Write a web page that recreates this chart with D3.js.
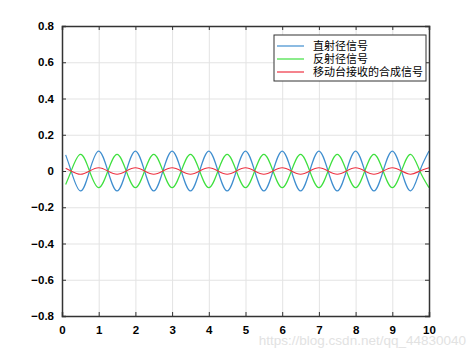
<!DOCTYPE html>
<html>
<head>
<meta charset="utf-8">
<script src="https://cdn.jsdelivr.net/npm/d3@7"></script>
<style>
body { margin: 0; background: #fff; }
</style>
</head>
<body>
<svg width="474" height="355"></svg>
<script>
// sample times (quarter periods)
const times = [0.1,
  0.25, 0.5, 0.75, 1, 1.25, 1.5, 1.75, 2, 2.25, 2.5, 2.75, 3, 3.25, 3.5, 3.75, 4,
  4.25, 4.5, 4.75, 5, 5.25, 5.5, 5.75, 6, 6.25, 6.5, 6.75, 7, 7.25, 7.5, 7.75, 8,
  8.25, 8.5, 8.75, 9, 9.25, 9.5, 9.75, 10];
const direct = [0.089,
  0, -0.11, 0, 0.11, 0, -0.11, 0, 0.11, 0, -0.11, 0, 0.11, 0, -0.11, 0, 0.11,
  0, -0.11, 0, 0.11, 0, -0.11, 0, 0.11, 0, -0.11, 0, 0.11, 0, -0.11, 0, 0.11,
  0, -0.11, 0, 0.11, 0, -0.11, 0, 0.11];
const reflected = [-0.074,
  0, 0.092, 0, -0.092, 0, 0.092, 0, -0.092, 0, 0.092, 0, -0.092, 0, 0.092, 0, -0.092,
  0, 0.092, 0, -0.092, 0, 0.092, 0, -0.092, 0, 0.092, 0, -0.092, 0, 0.092, 0, -0.092,
  0, 0.092, 0, -0.092, 0, 0.092, 0, -0.092];
const combined = [0.015,
  0, -0.018, 0, 0.018, 0, -0.018, 0, 0.018, 0, -0.018, 0, 0.018, 0, -0.018, 0, 0.018,
  0, -0.018, 0, 0.018, 0, -0.018, 0, 0.018, 0, -0.018, 0, 0.018, 0, -0.018, 0, 0.018,
  0, -0.018, 0, 0.018, 0, -0.018, 0, 0.018];
const seriesNames = ["直射径信号", "反射径信号", "移动台接收的合成信号"];
const xTicks = [0, 1, 2, 3, 4, 5, 6, 7, 8, 9, 10];
const yTicks = [-0.8, -0.6, -0.4, -0.2, 0, 0.2, 0.4, 0.6, 0.8];

const svg = d3.select('svg');
const margin = { top: 26, right: 45, bottom: 39, left: 62 };
const innerWidth = 474 - margin.left - margin.right;
const innerHeight = 355 - margin.top - margin.bottom;
const mainGroup = svg.append("g").attr("transform", "translate(" + margin.left + "," + margin.top + ")");

let xscale = d3.scaleLinear().domain([0, 10]).range([0, innerWidth]),
    yscale = d3.scaleLinear().domain([-0.8, 0.8]).range([innerHeight, 0]);
const colors = ["#3f8ecf", "#3ee03e", "#ee3040"];

// helper: drop the empty tick texts of grid / box axes
const noText = g => g.selectAll('text').remove();

// grid
mainGroup.append('g')
    .attr('transform', 'translate(0,' + innerHeight + ')')
    .call(d3.axisBottom(xscale).tickValues(xTicks).tickSize(-innerHeight).tickFormat(''))
    .call(g => g.select('.domain').remove())
    .call(noText)
    .selectAll('line').attr('stroke', '#e3e3e3');
mainGroup.append('g')
    .call(d3.axisLeft(yscale).tickValues(yTicks).tickSize(-innerWidth).tickFormat(''))
    .call(g => g.select('.domain').remove())
    .call(noText)
    .selectAll('line').attr('stroke', '#e3e3e3');

// lines
let line = d3.line()
    .curve(d3.curveNatural)
    .x((d, i) => xscale(times[i]))
    .y(d => yscale(d));
[direct, reflected, combined].forEach(function (vals, k) {
    mainGroup.append("path")
        .attr("fill", "none")
        .attr("stroke", colors[k])
        .attr("stroke-width", 1.2)
        .attr("d", line(vals));
});

// axes (ticks inward, box)
const tickFont = g => g.selectAll('text')
    .attr('font-family', 'Liberation Sans, Arial, sans-serif')
    .attr('font-weight', 'bold')
    .attr('font-size', '11.5px')
    .attr('fill', '#000');
mainGroup.append('g')
    .attr("class", "frame")
    .attr("transform", "translate(0," + innerHeight + ")")
    .call(d3.axisBottom(xscale).tickValues(xTicks).tickSize(-4).tickPadding(10).tickFormat(d3.format('d')))
    .call(tickFont);
mainGroup.append('g')
    .attr("class", "frame")
    .call(d3.axisLeft(yscale).tickValues(yTicks).tickSize(-4).tickPadding(8).tickFormat(d => d === 0 ? '0' : d3.format('.1f')(d)))
    .call(tickFont);
mainGroup.append('g')
    .attr("class", "frame")
    .call(d3.axisTop(xscale).tickValues(xTicks).tickSize(-4).tickFormat(''))
    .call(noText);
mainGroup.append('g')
    .attr("class", "frame")
    .attr("transform", "translate(" + innerWidth + ",0)")
    .call(d3.axisRight(yscale).tickValues(yTicks).tickSize(-4).tickFormat(''))
    .call(noText);
mainGroup.selectAll('.frame .domain').attr('stroke', '#333').attr('stroke-width', 1.5);
mainGroup.selectAll('.frame .tick line').attr('stroke', '#333');

// legend
const legend = svg.append('g').attr('transform', 'translate(274,35)');
legend.append('rect')
    .attr('width', 152).attr('height', 46)
    .attr('fill', '#fff').attr('stroke', '#333').attr('stroke-width', 1);
seriesNames.forEach(function (name, k) {
    const y = 11 + k * 13;
    legend.append('line')
        .attr('x1', 3).attr('x2', 30).attr('y1', y).attr('y2', y)
        .attr('stroke', colors[k]).attr('stroke-width', 1.2);
    legend.append('text')
        .attr('x', 39).attr('y', y).attr('dy', '0.35em')
        .attr('font-family', 'Noto Sans CJK SC, sans-serif')
        .attr('font-size', '11px')
        .attr('fill', '#000')
        .text(name);
});

// watermark
svg.append('text')
    .attr('x', 466).attr('y', 345)
    .attr('text-anchor', 'end')
    .attr('font-family', 'Liberation Sans, Arial, sans-serif')
    .attr('font-size', '13.5px')
    .attr('fill', '#e2e2e2')
    .text('https://blog.csdn.net/qq_44830040');
</script>
</body>
</html>
